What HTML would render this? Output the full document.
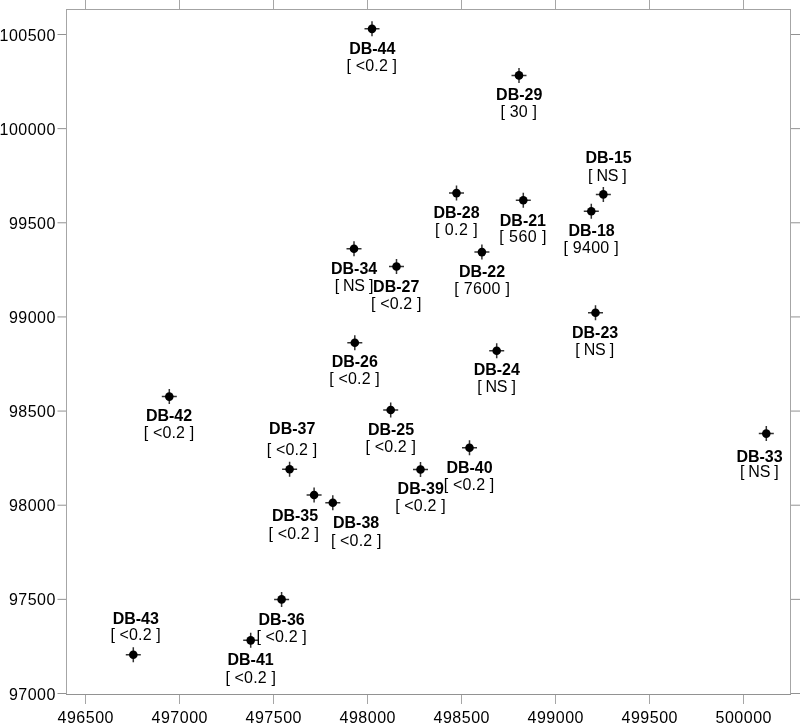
<!DOCTYPE html>
<html><head><meta charset="utf-8"><style>
html,body{margin:0;padding:0;background:#fff;width:800px;height:728px;overflow:hidden}
svg{position:absolute;left:0;top:0;display:block;will-change:transform}
text{font-family:"Liberation Sans",sans-serif;font-size:16px;fill:#000}
.b{font-weight:bold}
.ax{letter-spacing:0.5px}
</style></head><body>
<svg width="800" height="728" viewBox="0 0 800 728">

<path d="M66.5 9.5V694.5M790.5 9.5V694.5M85.50 695.0V704.0M85.50 9.0V0M179.50 695.0V704.0M179.50 9.0V0M273.50 695.0V704.0M273.50 9.0V0M367.50 695.0V704.0M367.50 9.0V0M461.50 695.0V704.0M461.50 9.0V0M555.50 695.0V704.0M555.50 9.0V0M649.50 695.0V704.0M649.50 9.0V0M743.50 695.0V704.0M743.50 9.0V0" stroke="#a6a6a6" stroke-width="1" fill="none"/>
<path d="M66.0 694.5H791.0M66.0 34.50H57.5M791.0 34.50H800M66.0 128.64H57.5M791.0 128.64H800M66.0 222.79H57.5M791.0 222.79H800M66.0 316.93H57.5M791.0 316.93H800M66.0 411.07H57.5M791.0 411.07H800M66.0 505.21H57.5M791.0 505.21H800M66.0 599.36H57.5M791.0 599.36H800M66.0 693.50H57.5M791.0 693.50H800" stroke="#929292" stroke-width="1" fill="none"/>
<path d="M66.0 9.5H791.0" stroke="#a3a3a3" stroke-width="1" fill="none"/>
<text class="ax" x="85.75" y="722.8" text-anchor="middle">496500</text>
<text class="ax" x="179.75" y="722.8" text-anchor="middle">497000</text>
<text class="ax" x="273.75" y="722.8" text-anchor="middle">497500</text>
<text class="ax" x="367.75" y="722.8" text-anchor="middle">498000</text>
<text class="ax" x="461.75" y="722.8" text-anchor="middle">498500</text>
<text class="ax" x="555.75" y="722.8" text-anchor="middle">499000</text>
<text class="ax" x="649.75" y="722.8" text-anchor="middle">499500</text>
<text class="ax" x="743.75" y="722.8" text-anchor="middle">500000</text>
<text class="ax" x="55.9" y="40.50" text-anchor="end">100500</text>
<text class="ax" x="55.9" y="134.64" text-anchor="end">100000</text>
<text class="ax" x="55.9" y="228.79" text-anchor="end">99500</text>
<text class="ax" x="55.9" y="322.93" text-anchor="end">99000</text>
<text class="ax" x="55.9" y="417.07" text-anchor="end">98500</text>
<text class="ax" x="55.9" y="511.21" text-anchor="end">98000</text>
<text class="ax" x="55.9" y="605.36" text-anchor="end">97500</text>
<text class="ax" x="55.9" y="699.50" text-anchor="end">97000</text>
<g transform="translate(372.0 28.85)"><path d="M-7.5 0H7.5M0 -7.5V7.5" stroke="#333" stroke-width="1.5"/><circle r="4.3"/></g>
<g transform="translate(519.0 75.4)"><path d="M-7.5 0H7.5M0 -7.5V7.5" stroke="#333" stroke-width="1.5"/><circle r="4.3"/></g>
<g transform="translate(603.35 194.4)"><path d="M-7.5 0H7.5M0 -7.5V7.5" stroke="#333" stroke-width="1.5"/><circle r="4.3"/></g>
<g transform="translate(591.3 211.2)"><path d="M-7.5 0H7.5M0 -7.5V7.5" stroke="#333" stroke-width="1.5"/><circle r="4.3"/></g>
<g transform="translate(456.5 193.1)"><path d="M-7.5 0H7.5M0 -7.5V7.5" stroke="#333" stroke-width="1.5"/><circle r="4.3"/></g>
<g transform="translate(523.3 200.2)"><path d="M-7.5 0H7.5M0 -7.5V7.5" stroke="#333" stroke-width="1.5"/><circle r="4.3"/></g>
<g transform="translate(481.9 252.1)"><path d="M-7.5 0H7.5M0 -7.5V7.5" stroke="#333" stroke-width="1.5"/><circle r="4.3"/></g>
<g transform="translate(354.0 248.75)"><path d="M-7.5 0H7.5M0 -7.5V7.5" stroke="#333" stroke-width="1.5"/><circle r="4.3"/></g>
<g transform="translate(396.5 266.45)"><path d="M-7.5 0H7.5M0 -7.5V7.5" stroke="#333" stroke-width="1.5"/><circle r="4.3"/></g>
<g transform="translate(595.5 312.8)"><path d="M-7.5 0H7.5M0 -7.5V7.5" stroke="#333" stroke-width="1.5"/><circle r="4.3"/></g>
<g transform="translate(354.8 342.7)"><path d="M-7.5 0H7.5M0 -7.5V7.5" stroke="#333" stroke-width="1.5"/><circle r="4.3"/></g>
<g transform="translate(496.7 350.7)"><path d="M-7.5 0H7.5M0 -7.5V7.5" stroke="#333" stroke-width="1.5"/><circle r="4.3"/></g>
<g transform="translate(169.3 396.6)"><path d="M-7.5 0H7.5M0 -7.5V7.5" stroke="#333" stroke-width="1.5"/><circle r="4.3"/></g>
<g transform="translate(390.7 410.0)"><path d="M-7.5 0H7.5M0 -7.5V7.5" stroke="#333" stroke-width="1.5"/><circle r="4.3"/></g>
<g transform="translate(289.6 469.3)"><path d="M-7.5 0H7.5M0 -7.5V7.5" stroke="#333" stroke-width="1.5"/><circle r="4.3"/></g>
<g transform="translate(469.5 447.8)"><path d="M-7.5 0H7.5M0 -7.5V7.5" stroke="#333" stroke-width="1.5"/><circle r="4.3"/></g>
<g transform="translate(420.5 469.5)"><path d="M-7.5 0H7.5M0 -7.5V7.5" stroke="#333" stroke-width="1.5"/><circle r="4.3"/></g>
<g transform="translate(766.3 433.6)"><path d="M-7.5 0H7.5M0 -7.5V7.5" stroke="#333" stroke-width="1.5"/><circle r="4.3"/></g>
<g transform="translate(314.1 495.0)"><path d="M-7.5 0H7.5M0 -7.5V7.5" stroke="#333" stroke-width="1.5"/><circle r="4.3"/></g>
<g transform="translate(332.8 502.75)"><path d="M-7.5 0H7.5M0 -7.5V7.5" stroke="#333" stroke-width="1.5"/><circle r="4.3"/></g>
<g transform="translate(281.6 599.4)"><path d="M-7.5 0H7.5M0 -7.5V7.5" stroke="#333" stroke-width="1.5"/><circle r="4.3"/></g>
<g transform="translate(133.3 654.7)"><path d="M-7.5 0H7.5M0 -7.5V7.5" stroke="#333" stroke-width="1.5"/><circle r="4.3"/></g>
<g transform="translate(250.7 640.35)"><path d="M-7.5 0H7.5M0 -7.5V7.5" stroke="#333" stroke-width="1.5"/><circle r="4.3"/></g>
<text class="b" x="372.3" y="53.54" text-anchor="middle">DB-44</text>
<text x="371.88" y="70.80" text-anchor="middle" letter-spacing="0.15">[ &lt;0.2 ]</text>
<text class="b" x="519.2" y="100.00" text-anchor="middle">DB-29</text>
<text x="518.84" y="117.20" text-anchor="middle" letter-spacing="0.18">[ 30 ]</text>
<text class="b" x="608.6" y="162.50" text-anchor="middle">DB-15</text>
<text x="607.28" y="180.90" text-anchor="middle" letter-spacing="-0.24">[ NS ]</text>
<text class="b" x="591.6" y="236.20" text-anchor="middle">DB-18</text>
<text x="591.18" y="253.10" text-anchor="middle" letter-spacing="0.27">[ 9400 ]</text>
<text class="b" x="456.5" y="218.40" text-anchor="middle">DB-28</text>
<text x="456.58" y="235.20" text-anchor="middle" letter-spacing="0.45">[ 0.2 ]</text>
<text class="b" x="522.9" y="225.70" text-anchor="middle">DB-21</text>
<text x="523.12" y="242.10" text-anchor="middle" letter-spacing="0.43">[ 560 ]</text>
<text class="b" x="482.0" y="277.30" text-anchor="middle">DB-22</text>
<text x="482.25" y="294.10" text-anchor="middle" letter-spacing="0.31">[ 7600 ]</text>
<text class="b" x="354.1" y="273.70" text-anchor="middle">DB-34</text>
<text x="353.93" y="291.20" text-anchor="middle" letter-spacing="-0.24">[ NS ]</text>
<text class="b" x="396.2" y="291.70" text-anchor="middle">DB-27</text>
<text x="396.32" y="309.30" text-anchor="middle" letter-spacing="0.15">[ &lt;0.2 ]</text>
<text class="b" x="595.1" y="337.50" text-anchor="middle">DB-23</text>
<text x="594.63" y="355.20" text-anchor="middle" letter-spacing="-0.24">[ NS ]</text>
<text class="b" x="354.8" y="367.30" text-anchor="middle">DB-26</text>
<text x="354.62" y="384.45" text-anchor="middle" letter-spacing="0.15">[ &lt;0.2 ]</text>
<text class="b" x="496.75" y="375.20" text-anchor="middle">DB-24</text>
<text x="496.43" y="392.45" text-anchor="middle" letter-spacing="-0.24">[ NS ]</text>
<text class="b" x="169.05" y="421.00" text-anchor="middle">DB-42</text>
<text x="169.07" y="438.10" text-anchor="middle" letter-spacing="0.15">[ &lt;0.2 ]</text>
<text class="b" x="391.0" y="434.70" text-anchor="middle">DB-25</text>
<text x="390.82" y="451.70" text-anchor="middle" letter-spacing="0.15">[ &lt;0.2 ]</text>
<text class="b" x="292.2" y="433.95" text-anchor="middle">DB-37</text>
<text x="292.07" y="454.80" text-anchor="middle" letter-spacing="0.15">[ &lt;0.2 ]</text>
<text class="b" x="469.5" y="473.00" text-anchor="middle">DB-40</text>
<text x="469.12" y="489.90" text-anchor="middle" letter-spacing="0.15">[ &lt;0.2 ]</text>
<text class="b" x="420.7" y="494.00" text-anchor="middle">DB-39</text>
<text x="420.47" y="511.30" text-anchor="middle" letter-spacing="0.15">[ &lt;0.2 ]</text>
<text class="b" x="759.5" y="461.70" text-anchor="middle">DB-33</text>
<text x="759.23" y="476.80" text-anchor="middle" letter-spacing="-0.24">[ NS ]</text>
<text class="b" x="295.05" y="520.60" text-anchor="middle">DB-35</text>
<text x="293.82" y="538.70" text-anchor="middle" letter-spacing="0.15">[ &lt;0.2 ]</text>
<text class="b" x="356.1" y="528.20" text-anchor="middle">DB-38</text>
<text x="356.22" y="545.80" text-anchor="middle" letter-spacing="0.15">[ &lt;0.2 ]</text>
<text class="b" x="281.6" y="624.50" text-anchor="middle">DB-36</text>
<text x="281.68" y="641.80" text-anchor="middle" letter-spacing="0.15">[ &lt;0.2 ]</text>
<text class="b" x="135.75" y="623.80" text-anchor="middle">DB-43</text>
<text x="135.67" y="640.30" text-anchor="middle" letter-spacing="0.15">[ &lt;0.2 ]</text>
<text class="b" x="250.6" y="665.40" text-anchor="middle">DB-41</text>
<text x="250.72" y="682.50" text-anchor="middle" letter-spacing="0.15">[ &lt;0.2 ]</text>
</svg></body></html>
